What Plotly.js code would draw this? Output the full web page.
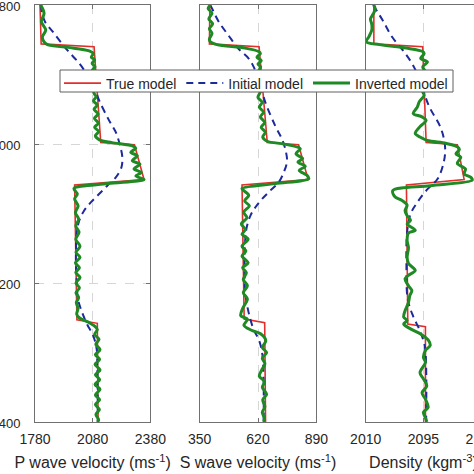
<!DOCTYPE html>
<html>
<head>
<meta charset="utf-8">
<script src="https://cdn.plot.ly/plotly-3.0.1.min.js"></script>
<style>
  html, body { margin: 0; padding: 0; overflow: hidden; background: #fff; }
  #chart { width: 490px; height: 474px; }
</style>
</head>
<body>
<div id="chart"></div>
<script>
// ---- P wave velocity (m/s) ----
const depthTrueP = [800, 856, 860, 998, 1001, 1051, 1059, 1253, 1258, 1400];
const vpTrue     = [1806, 1812, 2087, 2122, 2297, 2347, 1986, 1998, 2104, 2108];

const depthInitP = [800, 810, 824, 840, 865, 884, 900, 920, 937, 966, 983, 1002, 1019, 1034, 1048, 1060,
                    1072, 1084, 1096, 1111, 1127, 1151, 1175, 1199, 1224, 1243, 1260, 1276, 1296, 1320, 1360, 1400];
const vpInit     = [1810, 1816, 1832, 1877, 1948, 2010, 2050, 2090, 2113, 2165, 2200, 2222, 2234, 2229, 2200, 2156,
                    2113, 2070, 2035, 2009, 1997, 1993, 1993, 1997, 2004, 2026, 2052, 2083, 2101, 2104, 2106, 2106];

const depthInvP = [800, 812, 824, 836, 846, 853, 857, 861, 866, 870, 875, 879, 884, 889, 894, 899, 904, 909, 914, 920,
                   926, 932, 938, 944, 950, 957, 963, 970, 976, 982, 988, 994, 998, 1003, 1006, 1012, 1017, 1024, 1029, 1036,
                   1041, 1046, 1051, 1057, 1064, 1072, 1079, 1089, 1099, 1108, 1118, 1127, 1137, 1147, 1156, 1163, 1171, 1178,
                   1185, 1192, 1200, 1207, 1214, 1221, 1228, 1236, 1245, 1250, 1256, 1262, 1267, 1274, 1281, 1288, 1296, 1303,
                   1310, 1317, 1325, 1332, 1339, 1346, 1353, 1361, 1368, 1375, 1382, 1389, 1397, 1400];
const vpInv     = [1810, 1827, 1813, 1836, 1818, 1827, 1845, 1950, 2062, 2083, 2073, 2090, 2077, 2092, 2078, 2094, 2080, 2096, 2083, 2098,
                   2085, 2098, 2084, 2104, 2087, 2108, 2089, 2109, 2090, 2111, 2094, 2115, 2180, 2290, 2304, 2278, 2312, 2286, 2326, 2295,
                   2333, 2304, 2347, 2160, 1983, 2000, 1986, 2004, 1990, 2007, 1992, 2009, 1992, 2014, 1993, 2014, 1990, 2011,
                   1992, 2014, 1993, 2011, 1993, 2007, 1995, 2004, 1997, 2010, 2055, 2090, 2104, 2090, 2113, 2096, 2118, 2094,
                   2116, 2092, 2118, 2094, 2116, 2092, 2118, 2094, 2116, 2094, 2115, 2097, 2111, 2104];

// ---- S wave velocity (m/s) ----
const depthTrueS = [800, 856, 860, 998, 1001, 1051, 1059, 1252, 1257, 1400];
const vsTrue     = [397, 395, 625, 663, 808, 852, 546, 556, 651, 655];

const depthInitS = [800, 805, 824, 844, 863, 877, 889, 910, 940, 974, 993, 1012, 1026, 1041, 1055, 1067, 1079, 1091,
                    1103, 1118, 1137, 1175, 1214, 1243, 1267, 1281, 1300, 1344, 1400];
const vsInit     = [399, 407, 438, 484, 530, 577, 600, 625, 654, 700, 731, 750, 754, 739, 716, 677, 639, 608,
                    585, 569, 561, 558, 561, 577, 600, 623, 639, 646, 646];

const depthInvS = [800, 805, 812, 820, 827, 834, 841, 849, 853, 857, 862, 867, 870, 875, 880, 885, 889, 897, 904, 911,
                   918, 925, 933, 940, 947, 954, 961, 969, 976, 983, 990, 996, 1000, 1005, 1007, 1014, 1021, 1026, 1032, 1038,
                   1045, 1050, 1057, 1064, 1067, 1074, 1082, 1089, 1098, 1106, 1115, 1123, 1130, 1137, 1147, 1154, 1161, 1171,
                   1178, 1185, 1195, 1204, 1214, 1223, 1236, 1247, 1252, 1261, 1268, 1273, 1283, 1293, 1300, 1308, 1316, 1326,
                   1334, 1342, 1350, 1360, 1368, 1378, 1386, 1395, 1400];
const vsInv     = [399, 389, 407, 392, 410, 395, 407, 395, 399, 430, 560, 623, 631, 615, 635, 620, 632, 620, 634, 622,
                   636, 631, 620, 639, 626, 646, 631, 651, 635, 654, 642, 662, 740, 808, 816, 796, 827, 805, 839, 811,
                   847, 855, 700, 546, 554, 577, 558, 580, 554, 569, 543, 561, 546, 574, 546, 564, 546, 574,
                   549, 566, 552, 571, 552, 571, 550, 540, 571, 555, 590, 632, 656, 640, 660, 640, 652, 636,
                   626, 650, 640, 660, 642, 652, 640, 650, 645];

// ---- Density (kg/m^3) ----
const depthTrueD = [800, 856, 860, 998, 1001, 1051, 1059, 1259, 1263, 1400];
const rhoTrue    = [2022, 2022, 2094, 2099, 2145, 2155, 2070, 2072, 2098, 2098];

const depthInitD = [800, 822, 846, 868, 889, 915, 945, 978, 1005, 1026, 1050, 1065, 1084, 1101, 1127, 1175,
                    1224, 1248, 1269, 1291, 1320, 1400];
const rhoInit    = [2021, 2035, 2049, 2067, 2081, 2092, 2103, 2121, 2127, 2125, 2116, 2101, 2086, 2076, 2071, 2070,
                    2072, 2080, 2090, 2097, 2099, 2099];

const depthInvD = [800, 806, 813, 820, 828, 836, 845, 853, 857, 862, 867, 870, 877, 882, 889, 898, 906, 915, 922, 930,
                   939, 947, 956, 961, 966, 975, 985, 990, 995, 999, 1004, 1008, 1014, 1019, 1028, 1036, 1043, 1048, 1052, 1060,
                   1067, 1076, 1081, 1088, 1096, 1103, 1110, 1115, 1124, 1128, 1139, 1149, 1163, 1172, 1182, 1189, 1194, 1204,
                   1211, 1218, 1228, 1240, 1249, 1254, 1259, 1266, 1274, 1282, 1290, 1297, 1307, 1314, 1329, 1338, 1348, 1358,
                   1367, 1379, 1386, 1394, 1400];
const rhoInv    = [2022, 2024, 2021, 2017, 2019, 2019, 2015, 2011, 2030, 2070, 2094, 2096, 2091, 2101, 2094, 2099, 2092, 2098, 2093, 2096,
                   2089, 2086, 2080, 2093, 2099, 2090, 2083, 2090, 2101, 2128, 2145, 2148, 2143, 2150, 2145, 2157, 2155, 2165, 2167, 2105,
                   2050, 2053, 2063, 2071, 2068, 2071, 2076, 2071, 2083, 2073, 2071, 2073, 2071, 2073, 2083, 2073, 2068, 2073,
                   2078, 2075, 2073, 2068, 2066, 2071, 2066, 2076, 2092, 2102, 2105, 2098, 2095, 2098, 2090, 2095, 2100, 2093,
                   2098, 2102, 2095, 2098, 2100];

// ---- axis labels ----
const xTicksP = [1780, 2080, 2380];
const xTicksS = [350, 620, 890];
const xTicksD = [2010, 2095, 2180];
const depthTicks = [800, 1000, 1200, 1400];
const xTitles = ['P wave velocity (ms<sup>-1</sup>)', 'S wave velocity (ms<sup>-1</sup>)', 'Density (kgm<sup>-3</sup>)'];
const seriesNames = ['True model', 'Initial model', 'Inverted model'];

const W = 490, H = 474;
const TOP = 5, BOTTOM = 422;
const plotH = BOTTOM - TOP;
const toPaperY = px => 1 - (px - TOP) / plotH;

const RED = '#e0302b', BLUE = '#1c2a9c', GREEN = '#1f8a24';

function panelTraces(xa, ya, depthT, valT, depthI, valI, depthV, valV, legend) {
  return [
    { x: valT, y: depthT, xaxis: xa, yaxis: ya, mode: 'lines', name: seriesNames[0],
      showlegend: legend, line: { color: RED, width: 1.6 } },
    { x: valI, y: depthI, xaxis: xa, yaxis: ya, mode: 'lines', name: seriesNames[1],
      showlegend: legend, line: { color: BLUE, width: 2, dash: '7px,5px', shape: 'spline', smoothing: 1 } },
    { x: valV, y: depthV, xaxis: xa, yaxis: ya, mode: 'lines', name: seriesNames[2],
      showlegend: legend, line: { color: GREEN, width: 3, shape: 'spline', smoothing: 0.9 } }
  ];
}

const data = [].concat(
  panelTraces('x', 'y', depthTrueP, vpTrue, depthInitP, vpInit, depthInvP, vpInv, true),
  panelTraces('x2', 'y2', depthTrueS, vsTrue, depthInitS, vsInit, depthInvS, vsInv, false),
  panelTraces('x3', 'y3', depthTrueD, rhoTrue, depthInitD, rhoInit, depthInvD, rhoInv, false)
);

const FRAME = '#707070';
function xAxis(domain, range, ticks, title, anchor) {
  return {
    domain: domain.map(v => v / W), range: range, tickvals: ticks, anchor: anchor,
    showline: true, linecolor: FRAME, linewidth: 1, mirror: 'allticks',
    ticks: 'inside', ticklen: 4, tickcolor: FRAME,
    showgrid: true, gridcolor: '#d6d6d6', griddash: 'dash', gridwidth: 1,
    zeroline: false, fixedrange: true, ticklabeloverflow: 'allow',
    tickfont: { size: 14, color: '#262626' }, ticklabelstandoff: 4,
    title: { text: title, font: { size: 16, color: '#262626' }, standoff: 11 }
  };
}
function yAxis(anchor, labels) {
  return {
    domain: [0, 1], range: [1400, 800], tickvals: depthTicks, anchor: anchor,
    showline: true, linecolor: FRAME, linewidth: 1, mirror: labels ? 'allticks' : true,
    ticks: labels ? 'inside' : '', ticklen: 4, tickcolor: FRAME,
    showgrid: labels, gridcolor: '#d6d6d6', griddash: 'dash', gridwidth: 1,
    showticklabels: labels, zeroline: false, fixedrange: true, ticklabeloverflow: 'allow',
    tickfont: { size: 13, color: '#262626' }, ticklabelstandoff: 11, ticklabelshift: -1
  };
}

// Legend frame: a tight white box with the legend entries drawn over it
const legendBox = { left: 60, right: 453, top: 70, bottom: 92 };

const layout = {
  width: W, height: H,
  margin: { l: 0, r: 0, t: TOP, b: H - BOTTOM },
  paper_bgcolor: '#ffffff', plot_bgcolor: '#ffffff',
  font: { family: '"Liberation Sans", Arial, sans-serif', size: 14, color: '#262626' },
  showlegend: true,
  legend: {
    orientation: 'h', x: (legendBox.left - 1) / W, xanchor: 'left',
    y: toPaperY((legendBox.top + legendBox.bottom) / 2 - 13.5), yanchor: 'top',
    bgcolor: 'rgba(0,0,0,0)', borderwidth: 0,
    font: { size: 14, color: '#262626' }, itemwidth: 37
  },
  shapes: [{
    type: 'rect', xref: 'paper', yref: 'paper', layer: 'above',
    x0: legendBox.left / W, x1: legendBox.right / W,
    y0: toPaperY(legendBox.bottom), y1: toPaperY(legendBox.top),
    fillcolor: '#ffffff', line: { color: '#606060', width: 1 }
  }],
  xaxis: xAxis([35, 150.4], [1780, 2380], xTicksP, xTitles[0], 'y'),
  xaxis2: xAxis([199.7, 316.3], [350, 890], xTicksS, xTitles[1], 'y2'),
  xaxis3: xAxis([365.7, 481.1], [2010, 2180], xTicksD, xTitles[2], 'y3'),
  yaxis: yAxis('x', true),
  yaxis2: yAxis('x2', false),
  yaxis3: yAxis('x3', false)
};

Plotly.newPlot('chart', data, layout, { displayModeBar: false, staticPlot: true });
</script>
</body>
</html>
